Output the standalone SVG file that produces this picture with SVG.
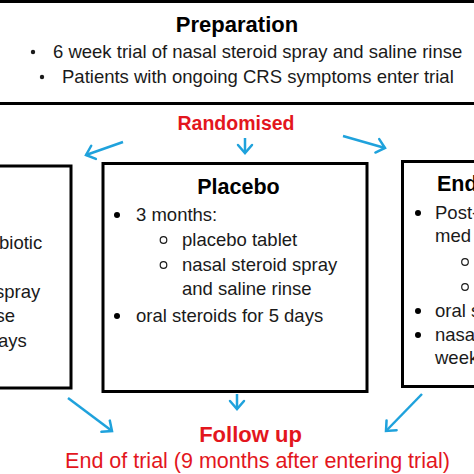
<svg xmlns="http://www.w3.org/2000/svg" width="474" height="474" viewBox="0 0 474 474">
<defs>
<style>
.box{fill:#fff;stroke:#000;stroke-width:3}
.t{font-family:"Liberation Sans",Arial,sans-serif;font-size:18.5px;fill:#1a1a1a}
.h{font-family:"Liberation Sans",Arial,sans-serif;font-size:21.5px;font-weight:bold;fill:#000}
.red{font-family:"Liberation Sans",Arial,sans-serif;fill:#e3161d}
.arr{fill:none;stroke:#1fa2dc;stroke-width:2.5;marker-end:url(#ah)}
.sb{fill:none;stroke:#1a1a1a;stroke-width:1.2}
</style>
<marker id="ah" markerUnits="userSpaceOnUse" markerWidth="20" markerHeight="20" viewBox="-12 -10 14 20" refX="0" refY="0" orient="auto">
<path d="M-8,-7 L0,0 L-8,7" fill="none" stroke="#1fa2dc" stroke-width="2.5" stroke-linecap="round" stroke-linejoin="miter"/>
</marker>
</defs>
<rect width="474" height="474" fill="#fff"/>

<g id="preparation">
<rect class="box" x="-10" y="1.5" width="494" height="102"/>
<text class="h" x="237" y="32" text-anchor="middle" style="font-size:22px">Preparation</text>
<circle cx="33" cy="52" r="2.2" fill="#1a1a1a"/>
<text class="t" x="53" y="58">6 week trial of nasal steroid spray and saline rinse</text>
<circle cx="42" cy="77" r="2.2" fill="#1a1a1a"/>
<text class="t" x="62" y="83">Patients with ongoing CRS symptoms enter trial</text>
</g>

<g id="randomised">
<text class="red" x="236" y="130" text-anchor="middle" style="font-size:19.5px;font-weight:bold">Randomised</text>
</g>

<g id="left-arm">
<rect class="box" x="-10" y="166" width="81" height="222"/>
<text class="t" x="-1" y="249">biotic</text>
<text class="t" x="-5" y="298">spray</text>
<text class="t" x="-4.5" y="322">se</text>
<text class="t" x="-2" y="347">ays</text>
</g>

<g id="placebo">
<rect class="box" x="103" y="163.5" width="264" height="228"/>
<text class="h" x="238.5" y="194" text-anchor="middle">Placebo</text>
<circle cx="117" cy="215" r="3" fill="#000"/>
<text class="t" x="136" y="221">3 months:</text>
<circle class="sb" cx="163.5" cy="240" r="3.3"/>
<text class="t" x="182" y="246">placebo tablet</text>
<circle class="sb" cx="163.5" cy="265" r="3.3"/>
<text class="t" x="182" y="271">nasal steroid spray</text>
<text class="t" x="182" y="295">and saline rinse</text>
<circle cx="117" cy="316" r="3" fill="#000"/>
<text class="t" x="136" y="322">oral steroids for 5 days</text>
</g>

<g id="right-arm">
<rect class="box" x="402.5" y="161.5" width="90" height="225"/>
<text class="h" x="437" y="191">End</text>
<circle cx="418" cy="213" r="3" fill="#000"/>
<text class="t" x="435" y="219">Post-</text>
<text class="t" x="435" y="242">med</text>
<circle class="sb" cx="465" cy="262" r="3.3"/>
<circle class="sb" cx="465" cy="287" r="3.3"/>
<circle cx="418" cy="311" r="3" fill="#000"/>
<text class="t" x="435" y="317">oral s</text>
<circle cx="418" cy="335" r="3" fill="#000"/>
<text class="t" x="435" y="341">nasal</text>
<text class="t" x="435" y="364">week</text>
</g>

<g id="follow-up">
<text class="red" x="250.5" y="442" text-anchor="middle" style="font-size:22px;font-weight:bold">Follow up</text>
<text class="red" x="257.5" y="468" text-anchor="middle" style="font-size:21.5px">End of trial (9 months after entering trial)</text>
</g>

<g id="connectors">
<line class="arr" x1="123" y1="142" x2="86" y2="155"/>
<line class="arr" x1="245" y1="138" x2="245" y2="153"/>
<line class="arr" x1="343" y1="136" x2="385" y2="148"/>
<line class="arr" x1="68" y1="398" x2="112" y2="431"/>
<line class="arr" x1="237" y1="394" x2="237" y2="409"/>
<line class="arr" x1="422" y1="394" x2="386" y2="431"/>
</g>
</svg>
